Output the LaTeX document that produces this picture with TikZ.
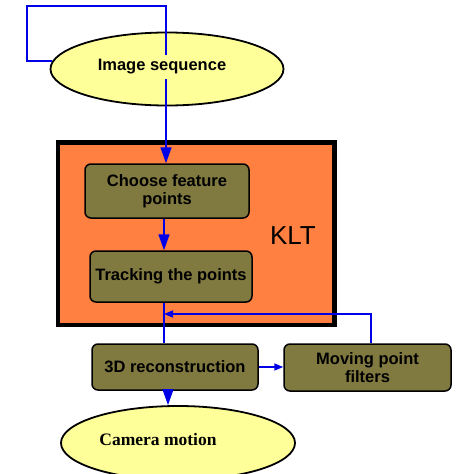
\documentclass[tikz,border=0pt]{standalone}
\usepackage{fontspec}
\setmainfont{Liberation Sans}
\newfontfamily\timesfont{Liberation Serif}
\usetikzlibrary{shapes.geometric,arrows.meta}

\definecolor{kltorange}{RGB}{255,128,64}
\definecolor{boxolive}{RGB}{128,121,64}
\definecolor{blobyellow}{RGB}{255,255,153}
\definecolor{flowblue}{RGB}{0,0,230}

\tikzset{
	stage/.style={draw=black, line width=1.5pt, fill=boxolive, rounded corners=6pt, inner sep=0pt,
		align=center, font=\bfseries\fontsize{16.5}{18}\selectfont},
	blob/.style={ellipse, draw=black, line width=1.8pt, fill=blobyellow, inner sep=0pt},
	flow/.style={draw=flowblue, line width=1.5pt},
	bigtip/.style={flow, -{Triangle[length=16pt,width=11pt]}},
	smalltip/.style={flow, -{Triangle[length=9pt,width=7pt]}},
}

\begin{document}
\begin{tikzpicture}[x=1pt, y=-1pt]
	\clip (0,0) rectangle (474,474);
	\fill[white] (0,0) rectangle (474,474);

	\node[blob, minimum width=233pt, minimum height=73pt] (imgseq) at (167,69) {};
	\node[draw=black, line width=4.5pt, fill=kltorange, inner sep=0pt,
		minimum width=276.5pt, minimum height=182.5pt] (klt) at (196,233.75) {};
	\node[font=\fontsize{26}{28}\selectfont] (klttext) at (293,236) {KLT};

	\node[stage, minimum width=164pt, minimum height=54pt] (choose) at (167,191) {Choose feature\\points};
	\node[stage, minimum width=162pt, minimum height=51pt] (tracking) at (171,276.5) {Tracking the points};
	\node[stage, minimum width=166pt, minimum height=46pt] (recon) at (175,367) {3D reconstruction};
	\node[stage, minimum width=167pt, minimum height=47pt] (filters) at (367.5,367.5) {Moving point\\filters};
	\node[blob, minimum width=234pt, minimum height=74pt] (camera) at (178,443) {};

	\draw[bigtip] (imgseq.176.5) -| (27,6) -| ([xshift=-1pt]choose.north);
	\draw[bigtip] ([xshift=-3pt]choose.south) -- ([xshift=-7pt]tracking.north);
	\draw[flow] ([xshift=-7pt]tracking.south) -- ([xshift=-11pt]recon.north);
	\coordinate (merge) at (164,314);
	\draw[smalltip] ([xshift=3.5pt]filters.north) |- (merge);
	\draw[smalltip] (recon.east) -- (recon.east -| filters.west);
	\draw[bigtip] ([xshift=-7pt]recon.south) -- ([xshift=-10pt]camera.north);

	\node[font=\bfseries\fontsize{16.5}{18}\selectfont, fill=blobyellow, inner xsep=2pt, inner ysep=5pt] (imgseqtext) at (162,67) {Image sequence};
	\node[font=\timesfont\bfseries\fontsize{17.5}{20}\selectfont] (cameratext) at (158,440) {Camera motion};
\end{tikzpicture}
\end{document}
